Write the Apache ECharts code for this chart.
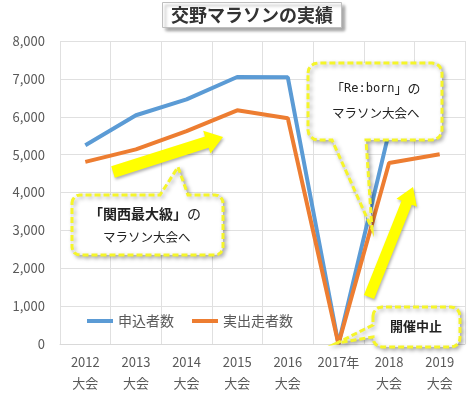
<!DOCTYPE html>
<html>
<head>
<meta charset="utf-8">
<script src="https://cdn.jsdelivr.net/npm/echarts@6/dist/echarts.min.js"></script>
<style>
  html, body { margin: 0; padding: 0; background: #fff; }
  #chart { width: 474px; height: 407px; }
</style>
</head>
<body>
<div id="chart"></div>
<script>
// 大会ごとのデータ
const categories = ['2012\n大会', '2013\n大会', '2014\n大会', '2015\n大会', '2016\n大会', '2017年', '2018\n大会', '2019\n大会'];
const applicants = [5250, 6040, 6460, 7050, 7040, 0, 5600, 5750];
const runners = [4810, 5140, 5620, 6170, 5960, 0, 4780, 5010];
const yTicks = [0, 1000, 2000, 3000, 4000, 5000, 6000, 7000, 8000];

const font = '"Noto Sans CJK JP", "Noto Sans", sans-serif';
const yellow = '#FFFF00';
const dashYellow = '#F5F52A';

// 太い矢印の多角形を作る
function arrowPoints(x1, y1, x2, y2, bw, hw, hl) {
    const dx = x2 - x1, dy = y2 - y1;
    const len = Math.sqrt(dx * dx + dy * dy);
    const ux = dx / len, uy = dy / len;
    const px = -uy, py = ux;
    const bx = x2 - ux * hl, by = y2 - uy * hl;
    return [
        [x1 + px * bw / 2, y1 + py * bw / 2],
        [bx + px * bw / 2, by + py * bw / 2],
        [bx + px * hw / 2, by + py * hw / 2],
        [x2, y2],
        [bx - px * hw / 2, by - py * hw / 2],
        [bx - px * bw / 2, by - py * bw / 2],
        [x1 - px * bw / 2, y1 - py * bw / 2]
    ];
}

// 角丸の吹き出し（しっぽ付き）
function calloutPoints(x, y, w, h, r, side, tail) {
    const pts = [];
    const arc = (cx, cy, a0) => {
        for (let i = 0; i <= 4; i++) {
            const a = a0 + Math.PI / 2 * i / 4;
            pts.push([cx + r * Math.cos(a), cy + r * Math.sin(a)]);
        }
    };
    arc(x + r, y + r, Math.PI);
    if (side === 'top') pts.push(...tail);
    arc(x + w - r, y + r, -Math.PI / 2);
    arc(x + w - r, y + h - r, 0);
    if (side === 'bottom') pts.push(...tail);
    arc(x + r, y + h - r, Math.PI / 2);
    if (side === 'left') pts.push(...tail);
    return pts;
}

const calloutStyle = {
    fill: '#fff',
    stroke: dashYellow,
    lineWidth: 3,
    lineDash: [6, 3],
    shadowBlur: 4,
    shadowOffsetX: 2,
    shadowOffsetY: 2,
    shadowColor: 'rgba(0,0,0,0.3)'
};
const arrowStyle = {
    fill: yellow,
    shadowBlur: 3,
    shadowOffsetX: 1,
    shadowOffsetY: 2,
    shadowColor: 'rgba(0,0,0,0.3)'
};

var chart = echarts.init(document.getElementById('chart'));

var option = {
    animation: false,
    title: {
        text: '交野マラソンの実績',
        left: 162,
        top: 2,
        padding: [4, 9],
        backgroundColor: '#fff',
        borderColor: '#bfbfbf',
        borderWidth: 1,
        shadowBlur: 3,
        shadowOffsetX: 3,
        shadowOffsetY: 3,
        shadowColor: 'rgba(0,0,0,0.35)',
        textStyle: { fontFamily: font, fontSize: 18, fontWeight: 'bold', color: '#333' }
    },
    legend: {
        left: 82,
        top: 309,
        icon: 'rect',
        itemWidth: 26,
        itemHeight: 4,
        itemGap: 18,
        textStyle: { fontFamily: font, fontSize: 14, color: '#595959' },
        data: ['申込者数', '実出走者数']
    },
    grid: { left: 60, right: 9, top: 41, bottom: 63 },
    xAxis: {
        type: 'category',
        data: categories,
        boundaryGap: true,
        axisLine: { lineStyle: { color: '#d9d9d9' } },
        axisTick: { show: false },
        splitLine: { show: true, lineStyle: { color: '#e0e0e0' } },
        axisLabel: {
            interval: 0,
            margin: 8,
            fontFamily: font,
            fontSize: 13,
            lineHeight: 21,
            color: '#595959'
        }
    },
    yAxis: {
        type: 'value',
        min: yTicks[0],
        max: yTicks[yTicks.length - 1],
        interval: 1000,
        axisLine: { show: false },
        axisTick: { show: false },
        splitLine: { lineStyle: { color: '#e0e0e0' } },
        axisLabel: {
            margin: 15,
            fontFamily: font,
            fontSize: 13,
            color: '#595959',
            formatter: v => v.toLocaleString('en-US')
        }
    },
    series: [
        {
            name: '申込者数',
            type: 'line',
            data: applicants,
            symbol: 'none',
            itemStyle: { color: '#5B9BD5' },
            lineStyle: { width: 4, color: '#5B9BD5' }
        },
        {
            name: '実出走者数',
            type: 'line',
            data: runners,
            symbol: 'none',
            itemStyle: { color: '#ED7D31' },
            lineStyle: { width: 4, color: '#ED7D31' }
        }
    ],
    graphic: [
        // 矢印
        { type: 'polygon', z: 100, shape: { points: arrowPoints(113, 172, 223, 137, 12, 24, 17) }, style: arrowStyle },
        { type: 'polygon', z: 100, shape: { points: arrowPoints(369, 297, 413, 187, 11, 22, 17) }, style: arrowStyle },
        // 吹き出し「関西最大級」
        {
            type: 'polygon', z: 101,
            shape: { points: calloutPoints(72, 195, 151, 60, 8, 'top', [[160, 195], [178, 167], [188, 195]]) },
            style: calloutStyle
        },
        {
            type: 'text', z: 102, left: 89, top: 207,
            style: {
                text: '{b|「関西最大級」}{n|の}',
                rich: {
                    b: { fontFamily: font, fontSize: 14, fontWeight: 'bold', fill: '#222' },
                    n: { fontFamily: font, fontSize: 14, fill: '#222' }
                }
            }
        },
        {
            type: 'text', z: 102, left: 103, top: 231,
            style: { text: 'マラソン大会へ', fontFamily: font, fontSize: 12.5, fill: '#222' }
        },
        // 吹き出し「Re:born」
        {
            type: 'polygon', z: 101,
            shape: { points: calloutPoints(308, 63, 134, 77, 10, 'bottom', [[366, 140], [372, 229], [332, 140]]) },
            style: calloutStyle
        },
        {
            type: 'text', z: 102, left: 331, top: 82,
            style: {
                text: '{a|「}{m|Re:born}{a|」}{a|の}',
                rich: {
                    a: { fontFamily: font, fontSize: 13, fill: '#222' },
                    m: { fontFamily: '"DejaVu Sans Mono", monospace', fontSize: 12, fill: '#222' }
                }
            }
        },
        {
            type: 'text', z: 102, left: 332, top: 107,
            style: { text: 'マラソン大会へ', fontFamily: font, fontSize: 12.5, fill: '#222' }
        },
        // 吹き出し「開催中止」
        {
            type: 'polygon', z: 101,
            shape: { points: calloutPoints(373, 307, 87, 40, 9, 'left', [[373, 337], [337, 343], [373, 325]]) },
            style: calloutStyle
        },
        {
            type: 'text', z: 102, left: 390, top: 320,
            style: { text: '開催中止', fontFamily: font, fontSize: 13, fontWeight: 'bold', fill: '#222' }
        }
    ]
};

chart.setOption(option);
window.addEventListener('resize', function () {
    chart.resize();
});
</script>
</body>
</html>
